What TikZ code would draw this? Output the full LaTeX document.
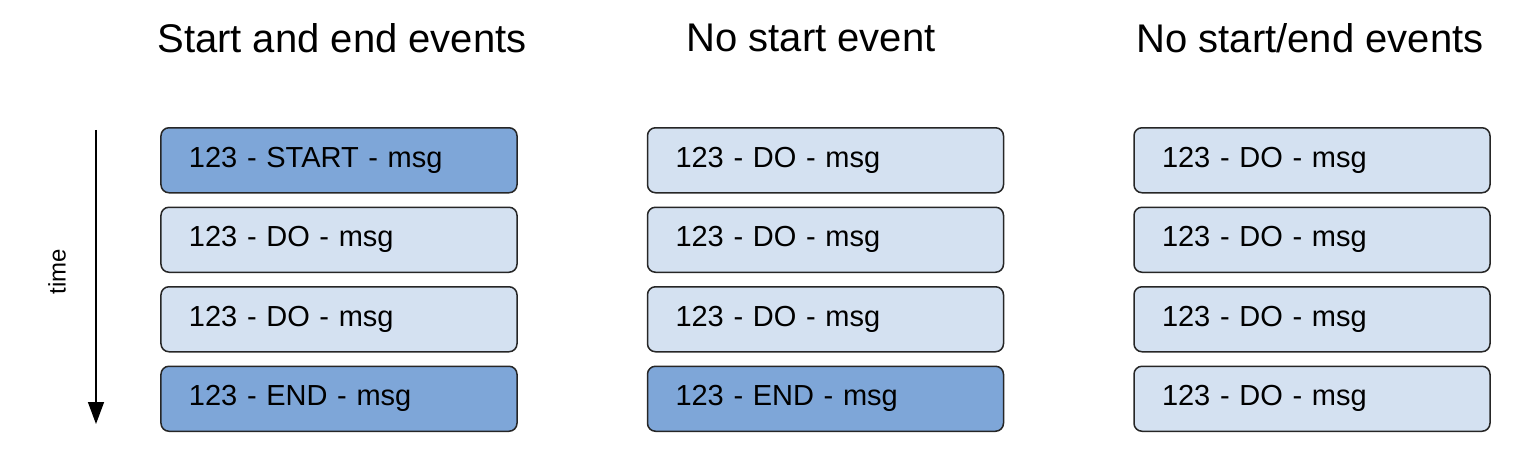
\documentclass[tikz,border=0pt]{standalone}
\usepackage{fontspec}
\setmainfont{Liberation Sans}
\usetikzlibrary{positioning}
\usetikzlibrary{matrix}
\usetikzlibrary{arrows.meta}
\definecolor{evdark}{HTML}{7EA6D8}
\definecolor{evlight}{HTML}{D4E1F1}
\tikzset{
  evbox/.style={draw=black!85,line width=1.5pt,rounded corners=8pt,fill=evlight,
    minimum width=356pt,minimum height=65pt,text width=300pt,inner sep=0pt,
    align=left,font=\fontsize{29}{29}\selectfont},
  evmark/.style={evbox,fill=evdark},
  evtitle/.style={font=\fontsize{40}{40}\selectfont,anchor=center}
}

\begin{document}
\begin{tikzpicture}[x=1pt,y=-1pt]
\useasboundingbox (0,0) rectangle (1536,457);
\matrix (m) at (825.5,279.5) [matrix of nodes,row sep=13pt,column sep=129pt,nodes={evbox}]
  {
     |[evmark]| 123 - START - msg & 123 - DO - msg & 123 - DO - msg \\
     123 - DO - msg & 123 - DO - msg & 123 - DO - msg \\
     123 - DO - msg & 123 - DO - msg & 123 - DO - msg \\
     |[evmark]| 123 - END - msg & |[evmark]| 123 - END - msg & 123 - DO - msg \\
  };
  \node[evtitle] (t1) at (342,38) {Start and end events};
  \node[evtitle] (t2) at (811,38) {No start event};
  \node[evtitle] (t3) at (1310,38) {No start/end events};
  \coordinate (tstart) at (96,130);
  \coordinate (tend) at (96,424);
  \draw[-{Triangle[length=22pt,width=16pt]}, line width=1.5pt] (tstart) -- (tend);
  \node[rotate=90,font=\fontsize{24}{24}\selectfont] (tlabel) at (57,272) {time};
\end{tikzpicture}
\end{document}
